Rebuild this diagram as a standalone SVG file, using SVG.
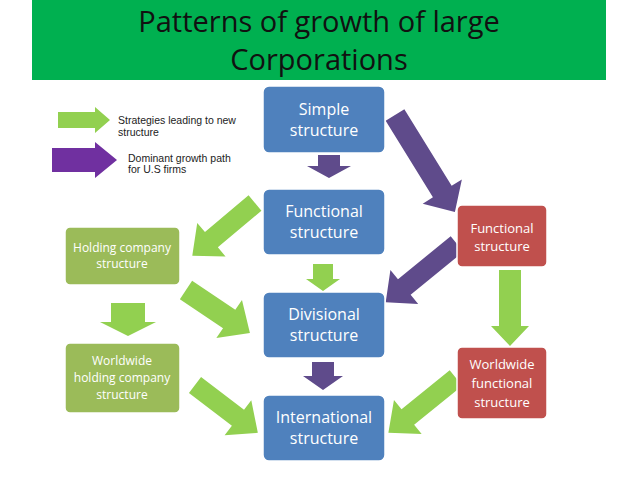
<svg xmlns="http://www.w3.org/2000/svg" width="638" height="478" viewBox="0 0 638 478">
<style>
.b{fill:#4f81bd;stroke:#fff;stroke-width:1.5}
.g{fill:#9bbb59;stroke:#fff;stroke-width:1.5}
.r{fill:#c0504d;stroke:#fff;stroke-width:1.5}
.t{font-family:"Open Sans","Liberation Sans",sans-serif;fill:#fff;text-anchor:middle}
.ga{fill:#92d050}
.pa{fill:#5f4b8b}
.lt{font-family:"Liberation Sans",Arial,sans-serif;font-size:10.5px;fill:#222}
</style>
<rect width="638" height="478" fill="#fff"/>
<rect x="32" y="0" width="574" height="80" fill="#00b050"/>
<text x="319" y="32" font-family="'Open Sans','Liberation Sans',sans-serif" font-size="29" text-anchor="middle" fill="#111">Patterns of growth of large</text>
<text x="319" y="70" font-family="'Open Sans','Liberation Sans',sans-serif" font-size="29" text-anchor="middle" fill="#111">Corporations</text>
<g id="connectors">
<polygon class="ga" transform="translate(58,120)" points="0,-8 37,-8 37,-13 52,0 37,13 37,8 0,8"/>
<polygon fill="#7030a0" transform="translate(52,160)" points="0,-12 43,-12 43,-18 65,0 43,18 43,12 0,12"/>
<polygon class="pa" transform="translate(329,155) rotate(90)" points="0,-11 11,-11 11,-22 23,0 11,22 11,11 0,11"/>
<polygon class="pa" transform="translate(323,362) rotate(90)" points="0,-11 14,-11 14,-20 28,0 14,20 14,11 0,11"/>
<polygon class="ga" transform="translate(323,264) rotate(90)" points="0,-10 15,-10 15,-17 27,0 15,17 15,10 0,10"/>
<polygon class="ga" transform="translate(128,303) rotate(90)" points="0,-17 19,-17 19,-28 33,0 19,28 19,17 0,17"/>
<polygon class="ga" transform="translate(510,270) rotate(90)" points="0,-11 56,-11 56,-19 76,0 56,19 56,11 0,11"/>
<polygon class="ga" transform="translate(255,203) rotate(139.9)" points="0,-10 57,-10 57,-22 82,0 57,22 57,10 0,10"/>
<polygon class="ga" transform="translate(186,290) rotate(33.9)" points="0,-11 52,-11 52,-23 77,0 52,23 52,11 0,11"/>
<polygon class="ga" transform="translate(195,385) rotate(37.3)" points="0,-10 54,-10 54,-22 79,0 54,22 54,10 0,10"/>
<polygon class="ga" transform="translate(456,378) rotate(141)" points="0,-10 62,-10 62,-22 87,0 62,22 62,10 0,10"/>
<polygon class="pa" transform="translate(395,115) rotate(58.3)" points="0,-11 90,-11 90,-23 114,0 90,23 90,11 0,11"/>
<polygon class="pa" transform="translate(457,244) rotate(140.8)" points="0,-10 68,-10 68,-22 92,0 68,22 68,10 0,10"/>
</g>
<text class="lt" x="118" y="124">Strategies leading to new</text>
<text class="lt" x="118" y="136">structure</text>
<text class="lt" x="128" y="162">Dominant growth path</text>
<text class="lt" x="128" y="173">for U.S firms</text>
<g id="simple"><rect class="b" x="263" y="86" width="122" height="67" rx="6"/><text class="t" font-size="16" x="324" y="115">Simple</text><text class="t" font-size="16" x="324" y="136">structure</text></g>
<g id="functional"><rect class="b" x="263" y="189" width="122" height="66" rx="6"/><text class="t" font-size="16" x="324" y="217">Functional</text><text class="t" font-size="16" x="324" y="238">structure</text></g>
<g id="divisional"><rect class="b" x="263" y="292" width="122" height="66" rx="6"/><text class="t" font-size="16" x="324" y="320">Divisional</text><text class="t" font-size="16" x="324" y="341">structure</text></g>
<g id="international"><rect class="b" x="263" y="395" width="122" height="66" rx="6"/><text class="t" font-size="16" x="324" y="423">International</text><text class="t" font-size="16" x="324" y="444">structure</text></g>
<g id="holding"><rect class="g" x="65" y="227" width="115" height="58" rx="5"/><text class="t" font-size="12" x="122" y="252">Holding company</text><text class="t" font-size="12" x="122" y="268">structure</text></g>
<g id="wwholding"><rect class="g" x="65" y="343" width="115" height="70" rx="5"/><text class="t" font-size="12" x="122" y="365">Worldwide</text><text class="t" font-size="12" x="122" y="382">holding company</text><text class="t" font-size="12" x="122" y="399">structure</text></g>
<g id="redfunctional"><rect class="r" x="457" y="205" width="90" height="62" rx="5"/><text class="t" font-size="13" x="502" y="233">Functional</text><text class="t" font-size="13" x="502" y="251">structure</text></g>
<g id="wwfunctional"><rect class="r" x="457" y="347" width="90" height="72" rx="5"/><text class="t" font-size="13" x="502" y="369">Worldwide</text><text class="t" font-size="13" x="502" y="388">functional</text><text class="t" font-size="13" x="502" y="407">structure</text></g>
</svg>
